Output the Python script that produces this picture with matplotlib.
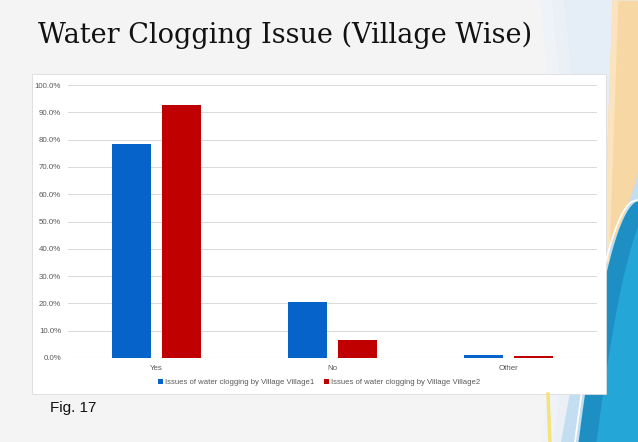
import numpy as np
import matplotlib
matplotlib.use('Agg')
import matplotlib.pyplot as plt
from matplotlib.patches import Rectangle

categories = ['Yes', 'No', 'Other']
village1 = [78.4, 20.5, 1.0]
village2 = [92.6, 6.6, 0.6]
series_names = ['Issues of water clogging by Village Village1',
                'Issues of water clogging by Village Village2']
yticks = [0, 10, 20, 30, 40, 50, 60, 70, 80, 90, 100]

W, H = 638, 442
fig = plt.figure(figsize=(W / 100, H / 100), dpi=100)
fig.patch.set_facecolor('#f4f4f5')

# slide background, drawn in pixel coordinates
bg = fig.add_axes([0, 0, 1, 1])
bg.set_xlim(0, W)
bg.set_ylim(H, 0)
bg.axis('off')
t = np.linspace(0, H, 300)
# pale blue wash on right, fading in
for k, c in enumerate(['#eff2f6', '#eaf0f6', '#e5eef7']):
    bg.fill_betweenx(t, 540 + 12 * k + 15 * np.sin(t / H * 3), W, color=c, lw=0)
# light blue band under the swoosh
bg.fill_betweenx(t, 640 - 0.18 * t, W, where=t > 120, color='#c3def0', lw=0)
# orange swoosh
to = np.linspace(0, 262, 150)
left_o = 612 - 0.035 * to
right_o = np.where(to < 160, 640, 640 - 37 * ((to - 160) / 102) ** 1.3)
bg.fill_betweenx(to, left_o, right_o, color='#f7d7a4', lw=0)
bg.fill_betweenx(to, left_o, left_o + 6, color='#fae3bd', lw=0)
# blue corner
tb = np.linspace(200, H, 150)
s = (tb - 200) / (H - 200)
left_b = 640 - 62 * np.sqrt(s)
bg.plot(left_b - 3, tb, color='white', lw=1.2)
bg.fill_betweenx(tb, left_b, W, color='#1e8fc3', lw=0)
bg.fill_betweenx(tb, left_b + 18, W, color='#24a6d6', lw=0)
# yellow thin curve at bottom
ty = np.linspace(394, H, 30)
bg.plot(548 + (ty - 394) * 0.04, ty, color='#f5e27a', lw=2.5)

# chart box
bg.add_patch(Rectangle((32, 74), 574, 320, facecolor='white', edgecolor='#dcdcdc', lw=0.6))

bg.text(38, 35, 'Water Clogging Issue (Village Wise)', fontsize=19.5,
        family='DejaVu Serif', va='center', ha='left', color='#111111')
bg.text(50, 408, 'Fig. 17', fontsize=11, family='Liberation Sans',
        va='center', ha='left', color='#111111')

# plot area
ax = fig.add_axes([68 / W, 1 - 358 / H, 529 / W, 273 / H])
ax.set_facecolor('none')
x = np.arange(len(categories))
bw = 0.222
gap = 0.031
ax.bar(x - bw / 2 - gap, village1, bw, color='#0563c9', label=series_names[0], zorder=3)
ax.bar(x + bw / 2 + gap, village2, bw, color='#c00000', label=series_names[1], zorder=3)
ax.set_xlim(-0.5, 2.5)
ax.set_ylim(0, 100)
ax.set_yticks(yticks)
ax.set_yticklabels(['%.1f%%' % v for v in yticks])
ax.set_xticks(x)
ax.set_xticklabels(categories)
ax.grid(axis='y', color='#d9d9d9', lw=0.7, zorder=0)
for s in ax.spines.values():
    s.set_visible(False)
ax.axhline(0, color='#d9d9d9', lw=0.8, zorder=2)
ax.tick_params(length=0, labelsize=5.7, labelcolor='#595959')
ax.tick_params(axis='y', pad=5)
ax.tick_params(axis='x', pad=5)
for lab in ax.get_xticklabels() + ax.get_yticklabels():
    lab.set_family('Liberation Sans')

leg = ax.legend(loc='center', bbox_to_anchor=(0.475, -0.09), ncol=2, frameon=False,
                prop={'family': 'Liberation Sans', 'size': 5.6}, handlelength=0.6,
                handleheight=0.6, handletextpad=0.3, columnspacing=1.2)
for txt in leg.get_texts():
    txt.set_color('#595959')

fig.savefig('out.png', dpi=100, facecolor=fig.get_facecolor())
